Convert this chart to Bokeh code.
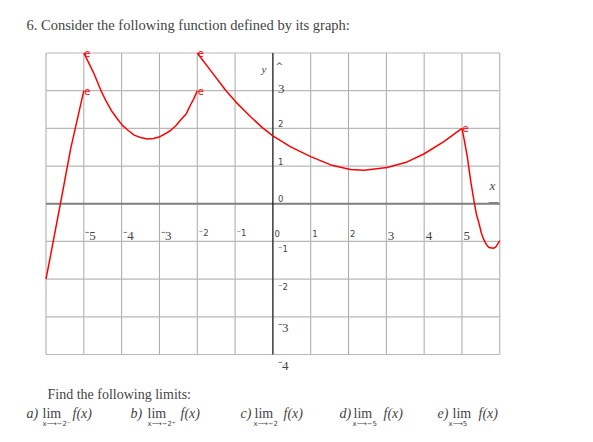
from bokeh.plotting import figure
from bokeh.models import Label
from bokeh.embed import file_html
from bokeh.resources import INLINE

# ---------------- data ----------------
title_text = "6. Consider the following function defined by its graph:"
limits_heading = "Find the following limits:"
limit_letters = ["a)", "b)", "c)", "d)", "e)"]
limit_subscripts = ["x\u27f6\u22122\u207b", "x\u27f6\u22122\u207a", "x\u27f6\u22122", "x\u27f6\u22125", "x\u27f65"]

x_grid = [-6, -5, -4, -3, -2, -1, 0, 1, 2, 3, 4, 5, 6]
y_grid = [-4, -3, -2, -1, 0, 1, 2, 3, 4]

x_tick_vals = [-5, -4, -3, -2, -1, 0, 1, 2, 3, 4, 5]
x_tick_labels = ["\u207b5", "\u207b4", "\u207b3", "\u207b2", "\u207b1", "0", "1", "2", "3", "4", "5"]
y_tick_vals = [3, 2, 1, 0, -1, -2, -3, -4]
y_tick_labels = ["3", "2", "1", "0", "\u207b1", "\u207b2", "\u207b3", "\u207b4"]

seg1_x = [-6.0, -5.6, -5.35, -5.0]
seg1_y = [-2.0, 0.1, 1.45, 3.0]

seg2_x = [-5.0, -4.86, -4.73, -4.55, -4.40, -4.25, -4.11, -3.98, -3.83, -3.67, -3.50, -3.32,
          -3.16, -3.01, -2.86, -2.70, -2.57, -2.44, -2.29, -2.18, -2.09, -2.0]
seg2_y = [4.0, 3.72, 3.45, 3.01, 2.70, 2.44, 2.25, 2.08, 1.95, 1.82, 1.76, 1.72,
          1.73, 1.77, 1.85, 1.95, 2.07, 2.22, 2.39, 2.62, 2.79, 3.0]

seg3_x = [-2.0, -1.65, -1.25, -0.99, -0.59, -0.28, 0.0, 0.47, 1.0, 1.53, 2.05, 2.41,
          3.02, 3.55, 3.99, 4.52, 5.0]
seg3_y = [4.0, 3.54, 3.01, 2.71, 2.31, 2.02, 1.80, 1.51, 1.25, 1.03, 0.91, 0.89,
          0.96, 1.11, 1.32, 1.65, 2.0]

seg4_x = [5.0, 5.07, 5.14, 5.19, 5.24, 5.33, 5.38, 5.45, 5.51, 5.58, 5.65, 5.71, 5.83, 5.89, 5.93, 6.0]
seg4_y = [2.0, 1.64, 1.25, 0.89, 0.54, 0.0, -0.27, -0.52, -0.77, -0.96, -1.09, -1.16, -1.18, -1.15, -1.09, -0.98]

mark_x = [-5, -5, -2, -2, 5]
mark_y = [4, 3, 4, 3, 2]
mark_text = "e"

# ---------------- layout / style ----------------
W, H = 592, 441
GX0, GX1 = 45.5, 499.3      # pixel columns of x = -6 and x = 6
GY0, GY1 = 52.5, 354.0      # pixel rows of y = 4 and y = -4
sxu = (GX1 - GX0) / (x_grid[-1] - x_grid[0])
syu = (GY1 - GY0) / (y_grid[-1] - y_grid[0])
x_start = x_grid[0] - GX0 / sxu
x_end = x_grid[-1] + (W - GX1) / sxu
y_end = y_grid[-1] + GY0 / syu
y_start = y_grid[0] - (H - GY1) / syu

SERIF = "Liberation Serif"
SANS = "DejaVu Sans"
RED = "#ff0000"
large_x = {-5, -4, -3, 3, 4, 5}
large_y = {3, -3, -4}

p = figure(x_range=(x_start, x_end), y_range=(y_start, y_end),
           width=W, height=H, min_border=0,
           x_axis_type=None, y_axis_type=None,
           output_backend="svg", toolbar_location=None)
p.background_fill_color = "white"
p.border_fill_color = "white"
p.outline_line_color = None
p.xgrid.visible = False
p.ygrid.visible = False

# grid
xmin, xmax = x_grid[0], x_grid[-1]
ymin, ymax = y_grid[0], y_grid[-1]
p.segment(x0=x_grid, y0=[ymin] * len(x_grid), x1=x_grid, y1=[ymax] * len(x_grid),
          line_color="#a8a8a8", line_width=1)
p.segment(x0=[xmin] * len(y_grid), y0=y_grid, x1=[xmax] * len(y_grid), y1=y_grid,
          line_color="#b8b8b8", line_width=1.2)
# axes
p.segment(x0=[xmin], y0=[0], x1=[xmax], y1=[0], line_color="#808080", line_width=2)
p.segment(x0=[0], y0=[ymin], x1=[0], y1=[ymax], line_color="#000000", line_width=1)

for sx, sy in [(seg1_x, seg1_y), (seg2_x, seg2_y), (seg3_x, seg3_y), (seg4_x, seg4_y)]:
    p.line(sx, sy, line_color=RED, line_width=1.5, line_join="round")

for mx, my in zip(mark_x, mark_y):
    p.add_layout(Label(x=mx, y=my, text=mark_text, text_color=RED, text_font=SANS,
                       text_font_size="10px", text_baseline="alphabetic",
                       x_offset=0.5, y_offset=0))

# x tick labels
for v, t in zip(x_tick_vals, x_tick_labels):
    big = v in large_x
    p.add_layout(Label(x=v, y=0, text=t,
                       text_font=SERIF if big else SANS,
                       text_font_size="13px" if big else "8.5px",
                       text_baseline="alphabetic", text_align="left",
                       x_offset=1.5, y_offset=-32 if big else -29.5))

# y tick labels
for v, t in zip(y_tick_vals, y_tick_labels):
    big = v in large_y
    if v >= 0:
        off = 1.5 if big else 5
    else:
        off = -10.5 if big else -7.5
    p.add_layout(Label(x=0, y=v, text=t,
                       text_font=SERIF if big else SANS,
                       text_font_size="13px" if big else "8.5px",
                       text_baseline="alphabetic", text_align="left",
                       x_offset=5, y_offset=off))


def put(text, px, py, font=SERIF, size="14px", style="normal"):
    p.add_layout(Label(x=px, y=H - py, x_units="screen", y_units="screen", text=text,
                       text_font=font, text_font_size=size, text_font_style=style,
                       text_baseline="alphabetic", text_align="left"))


# axis names
put("y", 261, 68, size="11px", style="italic")
put("^", 275, 65, font=SANS, size="9px")
put("x", 489, 185, size="13px", style="italic")
put("\u2014", 488, 201, size="10px")

# texts around the graph
put(title_text, 26, 24, size="14.5px")
put(limits_heading, 47, 394, size="14px")

letter_px = [26, 130, 240, 339, 437]
lim_px = [42, 147, 254, 353, 452]
f_px = [72, 180, 283, 383, 478]
sub_px = [42, 147, 253, 352, 448]
for i in range(5):
    put(limit_letters[i], letter_px[i], 413, style="italic")
    put("lim", lim_px[i], 413)
    put("f(x)", f_px[i], 413, style="italic")
    put(limit_subscripts[i], sub_px[i], 423, font=SANS, size="7px")

open("out.html", "w").write(file_html(p, INLINE))
